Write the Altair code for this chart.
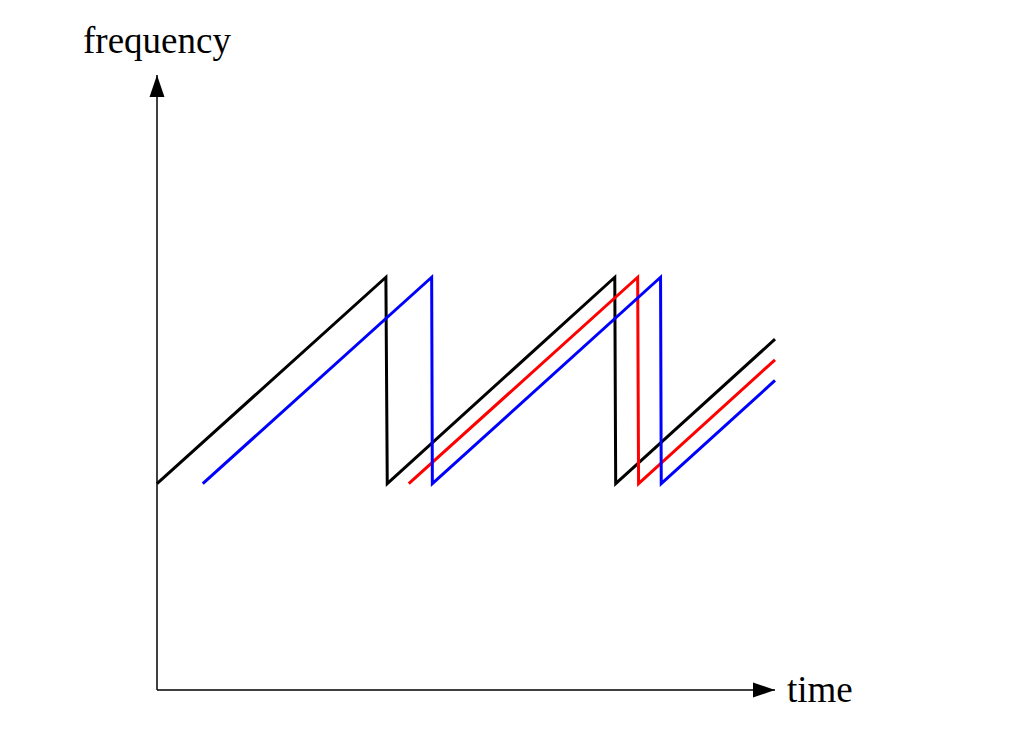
import altair as alt
import pandas as pd

# Series (time, frequency) vertices
black_t = [0, 10, 10.06, 20, 20.04, 27]
black_f = [10, 20, 10, 20, 10, 17]
red_t = [11, 21, 21.04, 27]
red_f = [10, 20, 10, 16]
blue_t = [2, 12, 12.03, 22, 22.03, 27]
blue_f = [10, 20, 10, 20, 10, 15]

T_MAX = 27
F_MAX = 29.8

series = [
    ("a_black", black_t, black_f, "#000000"),
    ("b_red", red_t, red_f, "#ff0000"),
    ("c_blue", blue_t, blue_f, "#0000ff"),
]
rows = []
for name, ts, fs, col in series:
    for i, (t, f) in enumerate(zip(ts, fs)):
        rows.append({"series": name, "t": t, "f": f, "i": i, "color": col})
df = pd.DataFrame(rows)

xs = alt.Scale(domain=[0, T_MAX], nice=False, zero=False)
ys = alt.Scale(domain=[0, F_MAX], nice=False, zero=False)
X = lambda f: alt.X(f, type="quantitative", scale=xs, axis=None)
Y = lambda f: alt.Y(f, type="quantitative", scale=ys, axis=None)

lines = alt.Chart(df).mark_line(strokeWidth=3, strokeJoin="miter").encode(
    x=X("t"), y=Y("f"),
    detail="series:N", order="i:Q",
    color=alt.Color("color:N", scale=None),
)

axes_df = pd.DataFrame({"t": [0, 0], "f": [0, 0], "t2": [T_MAX, 0], "f2": [0, F_MAX]})
axis_rules = alt.Chart(axes_df).mark_rule(strokeWidth=1.5, color="black").encode(
    x=X("t"), y=Y("f"), x2="t2:Q", y2="f2:Q"
)

xarrow_df = pd.DataFrame({"t": [T_MAX], "f": [0]})
yarrow_df = pd.DataFrame({"t": [0], "f": [F_MAX]})
xarrow = alt.Chart(xarrow_df).mark_point(
    shape="M 0 0 L -2 -0.68 L -2 0.68 Z", size=484, filled=True,
    color="black", opacity=1, strokeWidth=0,
).encode(x=X("t"), y=Y("f"))
yarrow = alt.Chart(yarrow_df).mark_point(
    shape="M 0 0 L -0.68 2 L 0.68 2 Z", size=484, filled=True,
    color="black", opacity=1, strokeWidth=0,
).encode(x=X("t"), y=Y("f"))

ylab_df = pd.DataFrame({"t": [0], "f": [F_MAX], "text": ["frequency"]})
xlab_df = pd.DataFrame({"t": [T_MAX], "f": [0], "text": ["time"]})
ylab = alt.Chart(ylab_df).mark_text(
    font="Liberation Serif", fontSize=37, align="center", baseline="alphabetic",
    dy=-22, color="black",
).encode(x=X("t"), y=Y("f"), text="text:N")
xlab = alt.Chart(xlab_df).mark_text(
    font="Liberation Serif", fontSize=37, align="left", baseline="alphabetic",
    dx=12, dy=12, color="black",
).encode(x=X("t"), y=Y("f"), text="text:N")

chart = alt.layer(axis_rules, xarrow, yarrow, lines, ylab, xlab).properties(
    width=618, height=615, autosize="none",
    padding={"left": 149, "top": 67, "right": 100, "bottom": 45},
).configure_view(stroke=None)

chart.save("out.html", embed_options={"renderer": "svg", "actions": False})
